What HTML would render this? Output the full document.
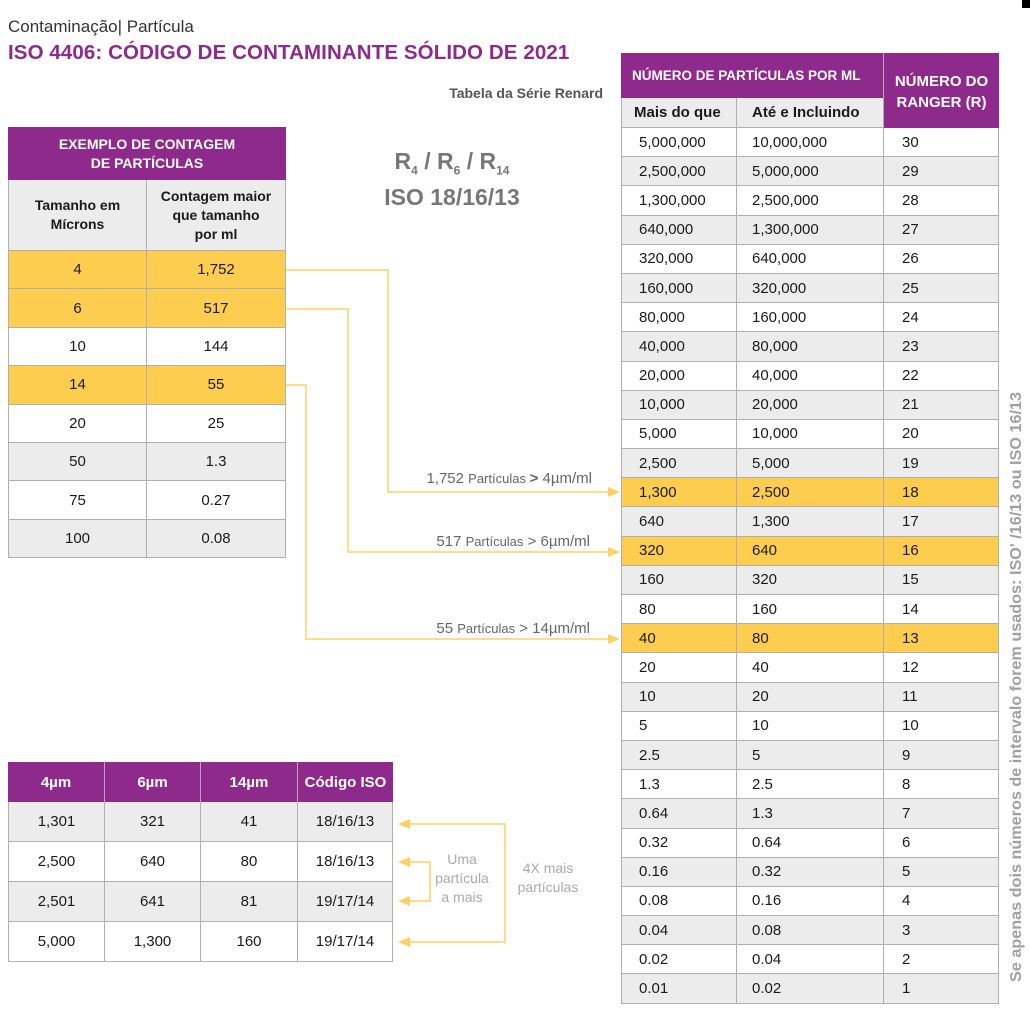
<!DOCTYPE html>
<html><head><meta charset="utf-8"><style>
*{margin:0;padding:0;box-sizing:border-box}
body{width:1030px;height:1027px;background:#fff;position:relative;overflow:hidden;font-family:"Liberation Sans","DejaVu Sans",sans-serif;color:#222}
.a{position:absolute}
.row{display:flex;border-bottom:1px solid #b0b0b0}
.row>div{border-right:1px solid #b0b0b0;display:flex;align-items:center;font-size:15px;color:#1a1a1a}
.row>div:first-child{border-left:1px solid #b0b0b0}
.w{background:#fff}.g{background:#ececec}.y{background:#fdcd4f}
.p{background:#8e2a8b;color:#fff;font-weight:bold}
.row>div.p,.row.p>div{color:#fff}
.c{justify-content:center;text-align:center}
</style></head><body>
<div class="a" style="left:1022px;top:0;width:8px;height:8px;background:#000"></div>
<div class="a" style="left:8px;top:17px;font-size:17px;color:#333">Contaminação| Partícula</div>
<div class="a" style="left:8px;top:41px;font-size:20.5px;font-weight:bold;color:#8e2a8b;letter-spacing:0.1px">ISO 4406: CÓDIGO DE CONTAMINANTE SÓLIDO DE 2021</div>
<div class="a" style="left:400px;width:203px;text-align:right;top:85px;font-size:14px;font-weight:bold;color:#555">Tabela da Série Renard</div>
<div class="a" style="left:352px;width:200px;text-align:center;top:148px;font-size:23px;font-weight:bold;color:#777">R<sub style="font-size:12px">4</sub> / R<sub style="font-size:12px">6</sub> / R<sub style="font-size:12px">14</sub></div>
<div class="a" style="left:352px;width:200px;text-align:center;top:184px;font-size:23px;font-weight:bold;color:#777">ISO 18/16/13</div>

<!-- left table -->
<div class="a" style="left:8px;top:127px;width:278px">
<div class="row" style="height:53px;border:none"><div class="p c" style="width:278px;font-size:14px;line-height:19px;border:none">EXEMPLO DE CONTAGEM<br>DE PARTÍCULAS</div></div>
<div class="row g" style="height:71px"><div class="c" style="width:139px;font-weight:bold;font-size:14px;line-height:19px">Tamanho em<br>Mícrons</div><div class="c" style="width:139px;font-weight:bold;font-size:14px;line-height:19px">Contagem maior<br>que tamanho<br>por ml</div></div>
<div class="row y" style="height:38.4px"><div class="c" style="width:139px">4</div><div class="c" style="width:139px">1,752</div></div>
<div class="row y" style="height:38.4px"><div class="c" style="width:139px">6</div><div class="c" style="width:139px">517</div></div>
<div class="row w" style="height:38.4px"><div class="c" style="width:139px">10</div><div class="c" style="width:139px">144</div></div>
<div class="row y" style="height:38.4px"><div class="c" style="width:139px">14</div><div class="c" style="width:139px">55</div></div>
<div class="row w" style="height:38.4px"><div class="c" style="width:139px">20</div><div class="c" style="width:139px">25</div></div>
<div class="row g" style="height:38.4px"><div class="c" style="width:139px">50</div><div class="c" style="width:139px">1.3</div></div>
<div class="row w" style="height:38.4px"><div class="c" style="width:139px">75</div><div class="c" style="width:139px">0.27</div></div>
<div class="row g" style="height:38.4px"><div class="c" style="width:139px">100</div><div class="c" style="width:139px">0.08</div></div>
</div>

<!-- right table header -->
<div class="a p" style="left:621px;top:53px;width:263px;height:45px;font-size:13.5px;display:flex;align-items:center;padding-left:11px;border-right:1px solid #b0b0b0">NÚMERO DE PARTÍCULAS POR ML</div>
<div class="a p" style="left:884px;top:53px;width:115px;height:75px;font-size:15px;line-height:21px;text-align:center;padding-top:18px">NÚMERO DO<br>RANGER (R)</div>
<div class="a" style="left:621px;top:98px;width:263px">
<div class="row g" style="height:30px"><div style="width:116px;padding-left:12px;font-weight:bold">Mais do que</div><div style="width:147px;padding-left:15px;font-weight:bold">Até e Incluindo</div></div>
</div>
<div class="a" style="left:621px;top:128px;width:378px">
<div class="row w" style="height:29.2px"><div style="width:116px;padding-left:17px">5,000,000</div><div style="width:147px;padding-left:15px">10,000,000</div><div style="width:115px;padding-left:18px">30</div></div>
<div class="row g" style="height:29.2px"><div style="width:116px;padding-left:17px">2,500,000</div><div style="width:147px;padding-left:15px">5,000,000</div><div style="width:115px;padding-left:18px">29</div></div>
<div class="row w" style="height:29.2px"><div style="width:116px;padding-left:17px">1,300,000</div><div style="width:147px;padding-left:15px">2,500,000</div><div style="width:115px;padding-left:18px">28</div></div>
<div class="row g" style="height:29.2px"><div style="width:116px;padding-left:17px">640,000</div><div style="width:147px;padding-left:15px">1,300,000</div><div style="width:115px;padding-left:18px">27</div></div>
<div class="row w" style="height:29.2px"><div style="width:116px;padding-left:17px">320,000</div><div style="width:147px;padding-left:15px">640,000</div><div style="width:115px;padding-left:18px">26</div></div>
<div class="row g" style="height:29.2px"><div style="width:116px;padding-left:17px">160,000</div><div style="width:147px;padding-left:15px">320,000</div><div style="width:115px;padding-left:18px">25</div></div>
<div class="row w" style="height:29.2px"><div style="width:116px;padding-left:17px">80,000</div><div style="width:147px;padding-left:15px">160,000</div><div style="width:115px;padding-left:18px">24</div></div>
<div class="row g" style="height:29.2px"><div style="width:116px;padding-left:17px">40,000</div><div style="width:147px;padding-left:15px">80,000</div><div style="width:115px;padding-left:18px">23</div></div>
<div class="row w" style="height:29.2px"><div style="width:116px;padding-left:17px">20,000</div><div style="width:147px;padding-left:15px">40,000</div><div style="width:115px;padding-left:18px">22</div></div>
<div class="row g" style="height:29.2px"><div style="width:116px;padding-left:17px">10,000</div><div style="width:147px;padding-left:15px">20,000</div><div style="width:115px;padding-left:18px">21</div></div>
<div class="row w" style="height:29.2px"><div style="width:116px;padding-left:17px">5,000</div><div style="width:147px;padding-left:15px">10,000</div><div style="width:115px;padding-left:18px">20</div></div>
<div class="row g" style="height:29.2px"><div style="width:116px;padding-left:17px">2,500</div><div style="width:147px;padding-left:15px">5,000</div><div style="width:115px;padding-left:18px">19</div></div>
<div class="row y" style="height:29.2px"><div style="width:116px;padding-left:17px">1,300</div><div style="width:147px;padding-left:15px">2,500</div><div style="width:115px;padding-left:18px">18</div></div>
<div class="row g" style="height:29.2px"><div style="width:116px;padding-left:17px">640</div><div style="width:147px;padding-left:15px">1,300</div><div style="width:115px;padding-left:18px">17</div></div>
<div class="row y" style="height:29.2px"><div style="width:116px;padding-left:17px">320</div><div style="width:147px;padding-left:15px">640</div><div style="width:115px;padding-left:18px">16</div></div>
<div class="row g" style="height:29.2px"><div style="width:116px;padding-left:17px">160</div><div style="width:147px;padding-left:15px">320</div><div style="width:115px;padding-left:18px">15</div></div>
<div class="row w" style="height:29.2px"><div style="width:116px;padding-left:17px">80</div><div style="width:147px;padding-left:15px">160</div><div style="width:115px;padding-left:18px">14</div></div>
<div class="row y" style="height:29.2px"><div style="width:116px;padding-left:17px">40</div><div style="width:147px;padding-left:15px">80</div><div style="width:115px;padding-left:18px">13</div></div>
<div class="row w" style="height:29.2px"><div style="width:116px;padding-left:17px">20</div><div style="width:147px;padding-left:15px">40</div><div style="width:115px;padding-left:18px">12</div></div>
<div class="row g" style="height:29.2px"><div style="width:116px;padding-left:17px">10</div><div style="width:147px;padding-left:15px">20</div><div style="width:115px;padding-left:18px">11</div></div>
<div class="row w" style="height:29.2px"><div style="width:116px;padding-left:17px">5</div><div style="width:147px;padding-left:15px">10</div><div style="width:115px;padding-left:18px">10</div></div>
<div class="row g" style="height:29.2px"><div style="width:116px;padding-left:17px">2.5</div><div style="width:147px;padding-left:15px">5</div><div style="width:115px;padding-left:18px">9</div></div>
<div class="row w" style="height:29.2px"><div style="width:116px;padding-left:17px">1.3</div><div style="width:147px;padding-left:15px">2.5</div><div style="width:115px;padding-left:18px">8</div></div>
<div class="row g" style="height:29.2px"><div style="width:116px;padding-left:17px">0.64</div><div style="width:147px;padding-left:15px">1.3</div><div style="width:115px;padding-left:18px">7</div></div>
<div class="row w" style="height:29.2px"><div style="width:116px;padding-left:17px">0.32</div><div style="width:147px;padding-left:15px">0.64</div><div style="width:115px;padding-left:18px">6</div></div>
<div class="row g" style="height:29.2px"><div style="width:116px;padding-left:17px">0.16</div><div style="width:147px;padding-left:15px">0.32</div><div style="width:115px;padding-left:18px">5</div></div>
<div class="row w" style="height:29.2px"><div style="width:116px;padding-left:17px">0.08</div><div style="width:147px;padding-left:15px">0.16</div><div style="width:115px;padding-left:18px">4</div></div>
<div class="row g" style="height:29.2px"><div style="width:116px;padding-left:17px">0.04</div><div style="width:147px;padding-left:15px">0.08</div><div style="width:115px;padding-left:18px">3</div></div>
<div class="row w" style="height:29.2px"><div style="width:116px;padding-left:17px">0.02</div><div style="width:147px;padding-left:15px">0.04</div><div style="width:115px;padding-left:18px">2</div></div>
<div class="row g" style="height:29.2px"><div style="width:116px;padding-left:17px">0.01</div><div style="width:147px;padding-left:15px">0.02</div><div style="width:115px;padding-left:18px">1</div></div>
</div>

<!-- bottom table -->
<div class="a" style="left:8px;top:762px;width:385px">
<div class="row p" style="height:40px;border:none"><div class="c" style="width:97px;border:none;border-right:1px solid #b0b0b0">4µm</div><div class="c" style="width:96px">6µm</div><div class="c" style="width:97px">14µm</div><div class="c" style="width:95px;border:none">Código ISO</div></div>
<div class="row g" style="height:40px"><div class="c" style="width:97px">1,301</div><div class="c" style="width:96px">321</div><div class="c" style="width:97px">41</div><div class="c" style="width:95px">18/16/13</div></div>
<div class="row w" style="height:40px"><div class="c" style="width:97px">2,500</div><div class="c" style="width:96px">640</div><div class="c" style="width:97px">80</div><div class="c" style="width:95px">18/16/13</div></div>
<div class="row g" style="height:40px"><div class="c" style="width:97px">2,501</div><div class="c" style="width:96px">641</div><div class="c" style="width:97px">81</div><div class="c" style="width:95px">19/17/14</div></div>
<div class="row w" style="height:40px"><div class="c" style="width:97px">5,000</div><div class="c" style="width:96px">1,300</div><div class="c" style="width:97px">160</div><div class="c" style="width:95px">19/17/14</div></div>
</div>

<svg class="a" style="left:0;top:0" width="1030" height="1027">
<g fill="none" stroke="#fdd063" stroke-width="1.5">
<polyline points="286,270 388,270 388,492 610,492"/>
<polyline points="286,309 348,309 348,552 610,552"/>
<polyline points="286,385 306,385 306,639 610,639"/>
<polyline points="408,824 505,824 505,942 408,942"/>
<polyline points="408,862 430,862 430,901 408,901"/>
</g>
<g fill="#fdd063">
<polygon points="620,492 608,487 608,497"/>
<polygon points="620,552 608,547 608,557"/>
<polygon points="620,639 608,634 608,644"/>
<polygon points="398,824 410,819 410,829"/>
<polygon points="398,942 410,937 410,947"/>
<polygon points="398,862 410,857 410,867"/>
<polygon points="398,901 410,896 410,906"/>
</g>
<g font-family="Liberation Sans, sans-serif" fill="#666">
<text x="592" y="483" text-anchor="end" font-size="15"><tspan>1,752 </tspan><tspan font-size="13">Partículas </tspan><tspan font-weight="bold">&gt;</tspan><tspan> 4µm/ml</tspan></text>
<text x="590" y="546" text-anchor="end" font-size="15"><tspan>517 </tspan><tspan font-size="13">Partículas</tspan><tspan> &gt; 6µm/ml</tspan></text>
<text x="590" y="633" text-anchor="end" font-size="15"><tspan>55 </tspan><tspan font-size="13">Partículas</tspan><tspan> &gt; 14µm/ml</tspan></text>
</g>
<g font-family="Liberation Sans, sans-serif" fill="#aaa" font-size="14" text-anchor="middle">
<text x="462" y="864">Uma</text><text x="462" y="883">partícula</text><text x="462" y="902">a mais</text>
<text x="548" y="873">4X mais</text><text x="548" y="892">partículas</text>
</g>
<text transform="translate(1021,687) rotate(-90)" text-anchor="middle" font-family="Liberation Sans, sans-serif" font-size="15.5" font-weight="bold" fill="#a0a0a0" textLength="590" lengthAdjust="spacingAndGlyphs">Se apenas dois números de intervalo forem usados: ISO' /16/13 ou ISO 16/13</text>
</svg>
</body></html>
